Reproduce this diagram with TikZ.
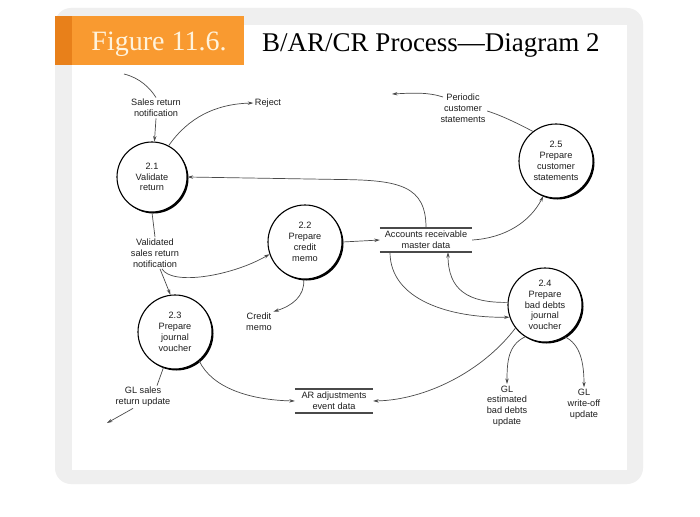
\documentclass[tikz,border=0pt]{standalone}
\usepackage{fontspec}
\setmainfont{Liberation Serif}
\newfontfamily\dsans{Liberation Sans}
\usetikzlibrary{shadows,arrows.meta}
\definecolor{frameg}{HTML}{EFEFEF}
\definecolor{orng}{HTML}{F99A30}
\definecolor{orngd}{HTML}{E8801A}
\definecolor{cream}{HTML}{FFF3DC}
\definecolor{lineg}{HTML}{4A4A4A}
\definecolor{txtg}{HTML}{1E1E1E}
\tikzset{
  lbl/.style={font=\dsans\fontsize{9.2}{10.8}\selectfont, align=center, text=txtg, inner sep=1.5pt},
  proc/.style={circle, draw=black, line width=1.1pt, fill=white, minimum size=74pt, inner sep=0pt,
    align=center, text=txtg, font=\dsans\fontsize{9.2}{10.8}\selectfont,
    drop shadow={shadow xshift=1.5pt, shadow yshift=-1.5pt, fill=black, opacity=1}},
  store/.style={lbl, minimum width=92pt, minimum height=24pt, inner sep=0pt},
  flow/.style={draw=lineg, line width=0.7pt},
  arr/.style={flow, -{Stealth[length=5.5pt,width=3.4pt]}},
}
\begin{document}
\begin{tikzpicture}[x=1pt,y=-1pt]
\useasboundingbox (0,0) rectangle (700,516);
\fill[white] (0,0) rectangle (700,516);
% frame
\fill[frameg, rounded corners=16pt] (55,8) rectangle (643,484);
\fill[white] (72,25) rectangle (627,470);
\fill[orng] (55,16) rectangle (244,65);
\fill[orngd] (55,16) rectangle (72,65);
\node[anchor=base, inner sep=0pt, text=cream, font=\fontsize{28}{30}\selectfont] (figlbl) at (159,51) {Figure 11.6.};
\node[anchor=base west, inner sep=0pt, text=black, font=\fontsize{27}{30}\selectfont] (title) at (262,52) {B/AR/CR Process---Diagram 2};

% processes
\node[proc, minimum size=70pt] (c21) at (152,177) {2.1\\Validate\\return};
\node[proc] (c22) at (305,242) {2.2\\Prepare\\credit\\memo};
\node[proc] (c23) at (175,332) {2.3\\Prepare\\journal\\voucher};
\node[proc] (c24) at (545,305) {2.4\\Prepare\\bad debts\\journal\\voucher};
\node[proc] (c25) at (556,161) {2.5\\Prepare\\customer\\statements};

% data stores
\node[store] (arm) at (426,240) {Accounts receivable\\master data};
\draw[lineg, line width=1.5pt] (arm.north west) -- (arm.north east) (arm.south west) -- (arm.south east);
\node[store, minimum width=78pt] (ara) at (334,401) {AR adjustments\\event data};
\draw[lineg, line width=1.5pt] (ara.north west) -- (ara.north east) (ara.south west) -- (ara.south east);

% labels
\node[lbl] (srn) at (156,108) {Sales return\\notification};
\node[lbl] (rej) at (268,103) {Reject};
\node[lbl] (pcs) at (463,108) {Periodic\\customer\\statements};
\node[lbl] (vsr) at (155,253) {Validated\\sales return\\notification};
\node[lbl] (cm) at (259,322) {Credit\\memo};
\node[lbl] (gls) at (143,397) {GL sales\\return update};
\node[lbl] (gle) at (507,406) {GL\\estimated\\bad debts\\update};
\node[lbl] (glw) at (584,404) {GL\\write-off\\update};

\coordinate (srin) at (124,74);
\coordinate (pcsend) at (392,94);
\coordinate (pcsa) at (443,97);
\coordinate (glsend) at (107,423);

% flows
\draw[flow] (srin) .. controls (140,78) and (150,88) .. (srn.north);
\draw[arr] (srn.south) -- (c21);
\draw[arr] (c21.62) .. controls (188,118) and (215,104) .. (rej.west);
\draw[arr] (arm.north) .. controls (426,186) and (400,180) .. (340,179.5) -- (c21.east);
\draw[flow] (c25.128) .. controls (515,122) and (500,115) .. ([yshift=-3pt]pcs.east);
\draw[arr] (pcsa) .. controls (428,92) and (412,93) .. (pcsend);
\draw[arr] (arm.east) .. controls (505,238) and (530,222) .. (c25.250);
\draw[arr] (c22.east) -- (arm.west);
\draw[flow] (c21.south) -- (vsr.north);
\draw[arr] ([xshift=5pt]vsr.south) -- (c23.97);
\draw[arr] ([xshift=7pt]vsr.south) .. controls (172,286) and (232,276) .. (c22.199);
\draw[arr] (c22.268) .. controls (305,296) and (292,306) .. (cm.north east);
\draw[flow] (c23.252) -- ([xshift=14pt]gls.north);
\draw[arr] ([xshift=-10pt]gls.south) -- (glsend);
\draw[arr] (c23.-50) .. controls (212,388) and (250,400) .. (ara.west);
\draw[arr] (c24.218) .. controls (482,372) and (425,400) .. (ara.east);
\draw[arr] ([xshift=-36pt]arm.south) .. controls (390,300) and (450,318) .. (c24.199);
\draw[arr] (c24.176) .. controls (468,303) and (448,290) .. ([xshift=22pt]arm.south);
\draw[arr] (c24.238) .. controls (508,345) and (507,362) .. (gle.north);
\draw[arr] (c24.-58) .. controls (580,344) and (584,362) .. (glw.north);
\end{tikzpicture}
\end{document}
